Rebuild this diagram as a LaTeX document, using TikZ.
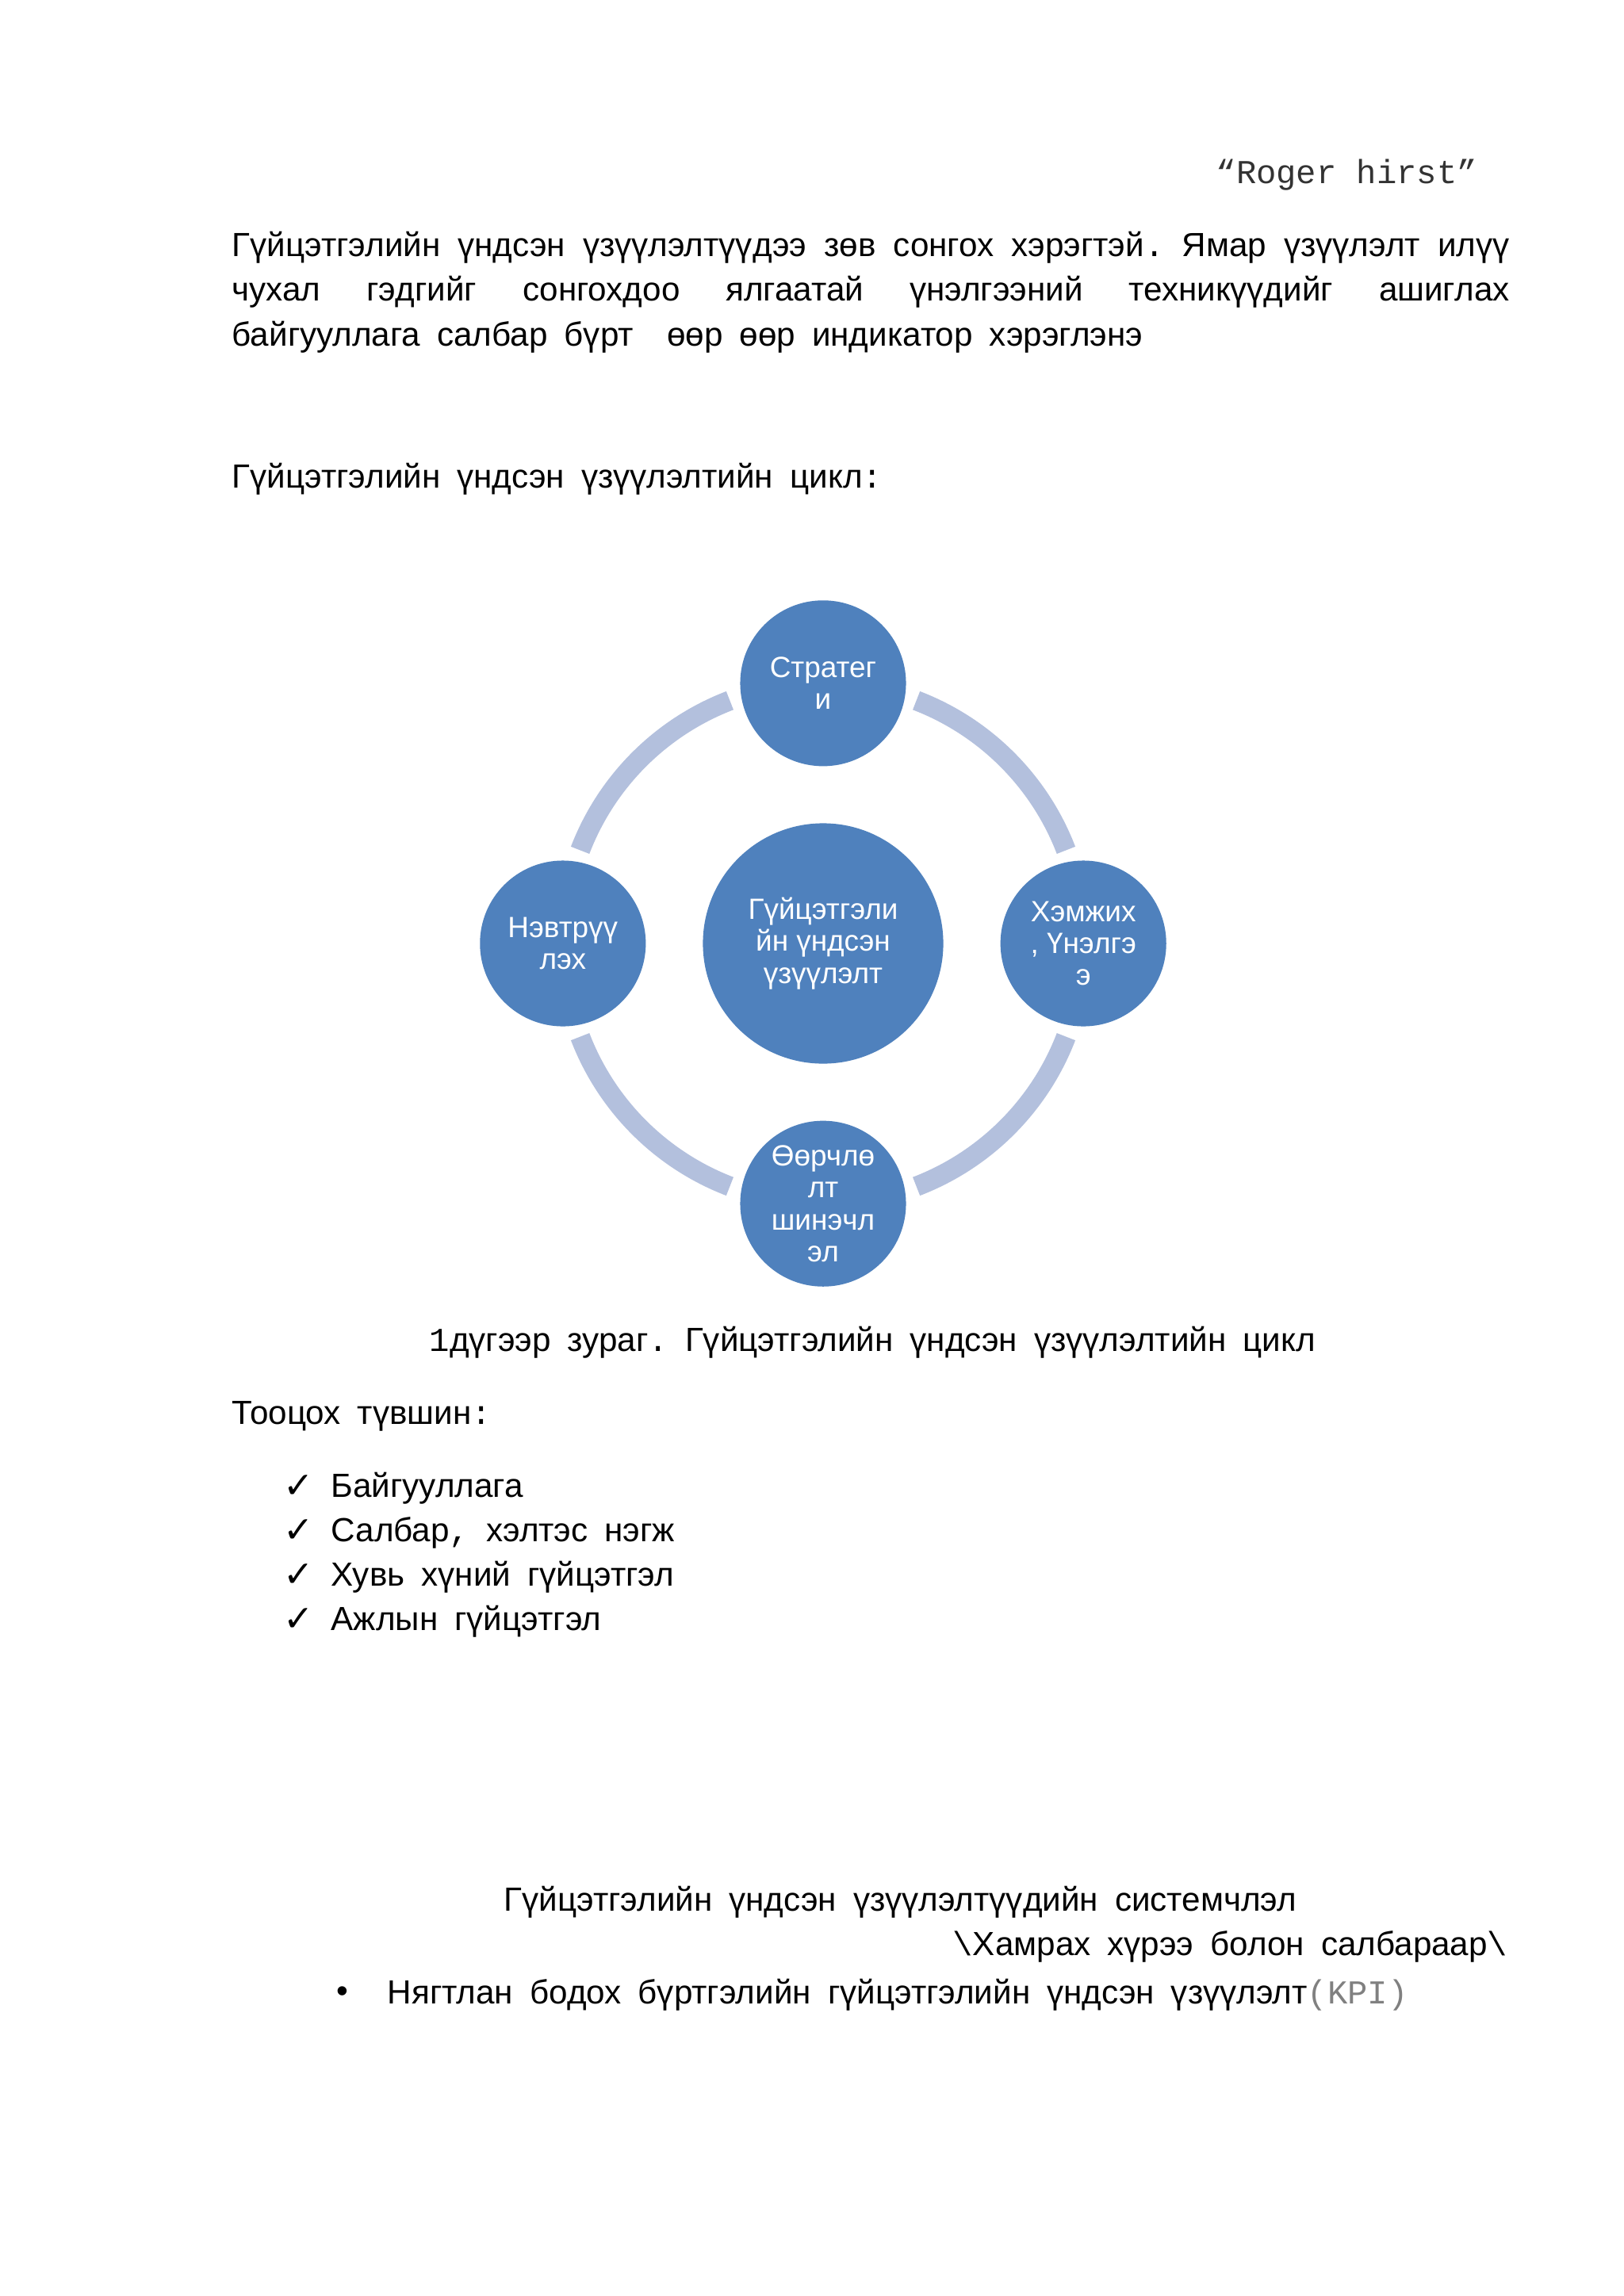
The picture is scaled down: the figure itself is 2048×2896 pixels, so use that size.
\documentclass[tikz,border=0pt]{standalone}
\usepackage{fontspec}
\setmainfont{Liberation Sans}
\newfontfamily\monofam{Liberation Mono}
\newfontfamily\symfam{DejaVu Sans}
\definecolor{hubblue}{HTML}{4F81BD}
\definecolor{ringblue}{HTML}{B3C0DD}
\newcommand{\monotxt}[1]{{\monofam #1}}
\newcommand{\widespaces}{\frenchspacing\spaceskip=6pt plus 4pt minus 1pt\relax}
\newcommand{\jline}[1]{\makebox[16.1cm][s]{#1}}
\begin{document}
\begin{tikzpicture}[
    x=0.01cm, y=-0.01cm,
    bodytext/.style={
        anchor=west,
        inner sep=0pt,
        font=\fontsize{12}{16}\selectfont\widespaces
    },
    bubble/.style={
        circle,
        fill=hubblue,
        text=white,
        align=center,
        inner sep=0pt,
        font=\fontsize{10.5}{11.5}\selectfont
    },
    satellite/.style={bubble, minimum size=2.09cm},
    hubnode/.style={bubble, minimum size=3.03cm},
    ringarc/.style={draw=ringblue, line width=0.25cm}
]
\fill[white] (0,0) rectangle (2048,2896);
\useasboundingbox (0,0) rectangle (2048,2896);

% text above the figure
\node[anchor=west, inner sep=0pt, font=\monofam\fontsize{12}{14}\selectfont, text=black!80] (quote) at (1533,221) {“Roger hirst”};
\node[bodytext] (para1) at (292,312) {\jline{Гүйцэтгэлийн үндсэн үзүүлэлтүүдээ зөв сонгох хэрэгтэй\monotxt{.} Ямар үзүүлэлт илүү}};
\node[bodytext] (para2) at (292,368) {\jline{чухал гэдгийг сонгохдоо ялгаатай үнэлгээний техникүүдийг ашиглах}};
\node[bodytext] (para3) at (292,425) {байгууллага салбар бүрт~ өөр өөр индикатор хэрэглэнэ};
\node[bodytext] (cyclehead) at (292,604) {Гүйцэтгэлийн үндсэн үзүүлэлтийн цикл\monotxt{:}};

% the cycle
\node[hubnode] (hub) at (1038,1190) {Гүйцэтгэли\\йн үндсэн\\үзүүлэлт};
\node[satellite] (strategy) at ([shift={(90:3.28cm)}]hub.center) {Стратег\\и};
\node[satellite] (measure) at ([shift={(0:3.28cm)}]hub.center) {Хэмжих\\, Үнэлгэ\\э};
\node[satellite] (change) at ([shift={(270:3.28cm)}]hub.center) {Өөрчлө\\лт\\шинэчл\\эл};
\node[satellite] (deploy) at ([shift={(180:3.28cm)}]hub.center) {Нэвтрүү\\лэх};
\foreach \a in {0,90,180,270}
    \draw[ringarc] (hub.center) ++(\a+21:3.28cm) arc[start angle=\a+21, end angle=\a+69, radius=3.28cm];

\node[bodytext] (caption) at (541,1693) {\monotxt{1}дүгээр зураг\monotxt{.} Гүйцэтгэлийн үндсэн үзүүлэлтийн цикл};

% levels
\node[bodytext] (levelhead) at (292,1786) {Тооцох түвшин\monotxt{:}};
\foreach \txt [count=\i] in {Байгууллага, {Салбар\monotxt{,} хэлтэс нэгж}, Хувь хүний гүйцэтгэл, Ажлын гүйцэтгэл} {
    \node[anchor=west, inner sep=0pt, font=\symfam\fontsize{13}{15}\selectfont] (tick\i) at (357,{1819+56*\i}) {✓};
    \node[bodytext] (level\i) at (417,{1821+56*\i}) {\txt};
}

% systematisation
\node[bodytext] (systitle) at (635,2399) {Гүйцэтгэлийн үндсэн үзүүлэлтүүдийн системчлэл};
\node[bodytext, anchor=east] (scopeline) at (1902,2455) {\monotxt{\textbackslash}Хамрах хүрээ болон салбараар\monotxt{\textbackslash}};
\node[bodytext] (kpidot) at (424,2516) {•};
\node[bodytext] (kpi) at (488,2516) {Нягтлан бодох бүртгэлийн гүйцэтгэлийн үндсэн үзүүлэлт\textcolor{gray}{\monotxt{(KPI)}}};
\end{tikzpicture}
\end{document}
